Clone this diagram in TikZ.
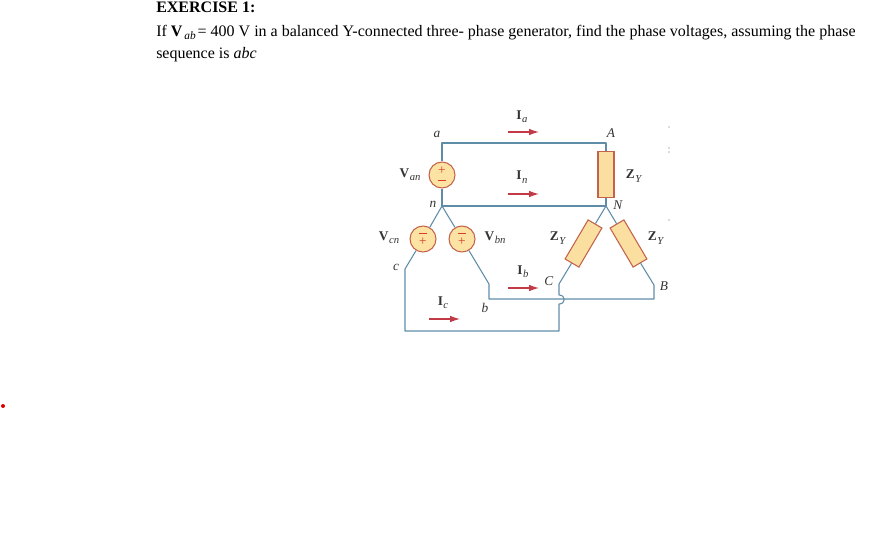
\documentclass[tikz,border=0pt]{standalone}
\usepackage{fontspec}
\setmainfont{Liberation Serif}
\usetikzlibrary{arrows.meta}
\definecolor{wireblue}{HTML}{5F8DA8}
\definecolor{srcfill}{HTML}{FCE3A4}
\definecolor{loadfill}{HTML}{FBDFA0}
\definecolor{edgered}{HTML}{C4624A}
\definecolor{arrowred}{HTML}{C23A45}
\newcommand{\symb}[2]{\textbf{#1}\raisebox{-2.5pt}{\fontsize{8}{8}\selectfont\hspace{0.4pt}\textit{#2}}}
\newcommand{\parasub}[2]{\textbf{#1}\raisebox{-2.5pt}{\fontsize{8.5}{8}\selectfont\textit{\,#2}}}
\tikzset{
    wire/.style={draw=wireblue, line width=0.8pt, line join=round},
    source/.style={circle, draw=edgered, fill=srcfill, line width=0.8pt, minimum size=19.5pt, inner sep=0pt, align=center, text=edgered!60!red, font=\fontsize{10}{6}\selectfont},
    load/.style={rectangle, draw=edgered, fill=loadfill, line width=0.8pt, minimum width=12pt, minimum height=34pt, inner sep=0pt},
    flow/.style={-{Latex[length=7.5pt,width=5pt]}, draw=arrowred, line width=0.9pt},
    lbl/.style={inner sep=0pt, font=\fontsize{10}{10}\selectfont, text=black!80},
    para/.style={inner sep=0pt, anchor=base west, font=\fontsize{12}{13}\selectfont},
    speck/.style={circle, fill=#1, inner sep=0pt}
}
\begin{document}
\begin{tikzpicture}[x=0.75pt, y=-0.75pt]
    \useasboundingbox (0,0) rectangle (892,557);
    % text
    \node[para] (title) at (156,12) {\textbf{EXERCISE 1:}};
    \node[para] (line1) at (156,36) {If \parasub{V}{ab}\hspace{1.5pt}= 400 V in a balanced Y-connected three- phase generator, find the phase voltages, assuming the phase};
    \node[para] (line2) at (156,58) {sequence is \textit{abc}};
    % sources
    \node[source] (Van) at (442,175) {+\\[1pt]\rule[2pt]{6pt}{0.6pt}};
    \node[source] (Vcn) at (423,239) {\rule[2pt]{6pt}{0.6pt}\\[1pt]+};
    \node[source] (Vbn) at (462,239) {\rule[2pt]{6pt}{0.6pt}\\[1pt]+};
    % loads
    \node[load] (ZA) at (606,174.5) {};
    \node[load, rotate=-30.5] (ZC) at (583.5,243.5) {};
    \node[load, rotate=30.5] (ZB) at (628.5,243.5) {};
    % corners
    \coordinate (a) at (442,143);
    \coordinate (A) at (606,143);
    \coordinate (n) at (442,206);
    \coordinate (N) at (606,206);
    \coordinate (c) at (405,269);
    \coordinate (cend) at (405,331);
    \coordinate (b) at (489,284);
    \coordinate (bend) at (489,299);
    \coordinate (C) at (559,284);
    \coordinate (B) at (654,285);
    \coordinate (Bend) at (654,299);
    \coordinate (jumptop) at (559,295);
    \coordinate (jumpbot) at (559,304);
    \coordinate (Cend) at (559,331);
    % wires
    \draw[wire] (Van) -- (a) -- (A) -- (ZA);
    \draw[wire] (Van) -- (n) -- (N) -- (ZA);
    \draw[wire] (Vcn) -- (n) -- (Vbn);
    \draw[wire] (ZC) -- (N) -- (ZB);
    \draw[wire] (Vcn) -- (c) -- (cend) -- (Cend) -- (jumpbot) .. controls (566,304) and (566,295) .. (jumptop) -- (C) -- (ZC);
    \draw[wire] (Vbn) -- (b) -- (bend) -- (Bend) -- (B) -- (ZB);
    % currents
    \coordinate (Ias) at (508,132);
    \coordinate (Iae) at (539,132);
    \coordinate (Ins) at (508,194);
    \coordinate (Ine) at (539,194);
    \coordinate (Ibs) at (508,288);
    \coordinate (Ibe) at (539,288);
    \coordinate (Ics) at (429,319);
    \coordinate (Ice) at (460,319);
    \draw[flow] (Ias) -- (Iae);
    \draw[flow] (Ins) -- (Ine);
    \draw[flow] (Ibs) -- (Ibe);
    \draw[flow] (Ics) -- (Ice);
    % labels
    \node[lbl] (lIa) at (522,117) {\symb{I}{a}};
    \node[lbl] (lIn) at (522,177) {\symb{I}{n}};
    \node[lbl] (lIb) at (523,272) {\symb{I}{b}};
    \node[lbl] (lIc) at (443,303) {\symb{I}{c}};
    \node[lbl] (lVan) at (410,175) {\symb{V}{an}};
    \node[lbl] (lVcn) at (389,238) {\symb{V}{cn}};
    \node[lbl] (lVbn) at (495,238) {\symb{V}{bn}};
    \node[lbl] (lZA) at (634,176) {\symb{Z}{Y}};
    \node[lbl] (lZC) at (558,238) {\symb{Z}{Y}};
    \node[lbl] (lZB) at (656,238) {\symb{Z}{Y}};
    \node[lbl] (la) at (437,134) {\textit{a}};
    \node[lbl] (lA) at (611,133) {\textit{A}};
    \node[lbl] (ln) at (433,204) {\textit{n}};
    \node[lbl] (lN) at (618,205) {\textit{N}};
    \node[lbl] (lc) at (396,267) {\textit{c}};
    \node[lbl] (lb) at (485,308) {\textit{b}};
    \node[lbl] (lC) at (549,281) {\textit{C}};
    \node[lbl] (lB) at (664,286) {\textit{B}};
    % marks of the scan
    \node[speck=red!85!black, minimum size=3pt] (dot) at (3,406) {};
    \node[speck=black!60, minimum size=0.8pt] (s1) at (669,127) {};
    \node[speck=black!60, minimum size=0.8pt] (s2) at (669,148) {};
    \node[speck=black!60, minimum size=0.8pt] (s3) at (669,152) {};
    \node[speck=black!60, minimum size=0.8pt] (s4) at (669,220) {};
\end{tikzpicture}
\end{document}
